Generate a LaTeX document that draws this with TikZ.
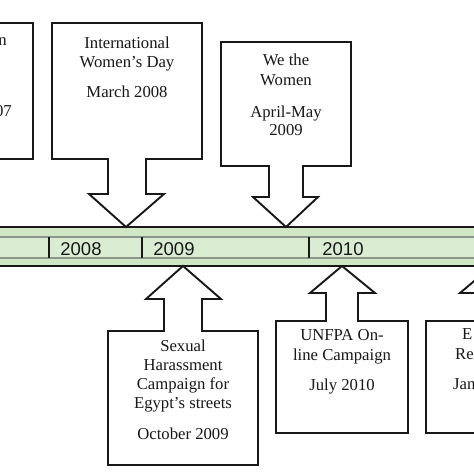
\documentclass[tikz,border=0pt]{standalone}
\usepackage{fontspec}
\setmainfont{Liberation Serif}
\newfontfamily\yearfont{Liberation Sans}
\definecolor{barout}{RGB}{208,231,198}
\definecolor{barin}{RGB}{218,237,210}
\definecolor{barline}{RGB}{140,150,140}
\definecolor{ink}{RGB}{24,24,24}
\tikzset{
  callout/.style={draw=ink,line width=1.9pt,fill=white,line join=miter},
  lbl/.style={font=\fontsize{16.7}{19}\selectfont,text=ink,inner sep=0pt,anchor=base},
  yr/.style={font=\yearfont\fontsize{18.5}{20}\selectfont,text=ink,inner sep=0pt,anchor=base},
  tick/.style={draw=ink,line width=1.5pt}
}
\begin{document}
\begin{tikzpicture}[x=1pt,y=-1pt]
\clip (0,0) rectangle (474,474);
\fill[white] (0,0) rectangle (474,474);
% timeline bar
\fill[barout] (-10,227) rectangle (484,266);
\fill[barin] (-10,237) rectangle (484,258);
\draw[barline,line width=1.1pt] (-10,237) -- (484,237) (-10,258) -- (484,258);
\draw[ink,line width=1.9pt] (-10,227) -- (484,227) (-10,266) -- (484,266);
\draw[tick] (49,237) -- (49,258);
\draw[tick] (142,237) -- (142,258);
\draw[tick] (309,237) -- (309,258);
\node[yr] (y2008) at (81,255) {2008};
\node[yr] (y2009) at (174,255) {2009};
\node[yr] (y2010) at (343,255) {2010};
% downward callouts
\draw[callout] (-117,23) -- (33,23) -- (33,159) -- (-23,159) -- (-23,194) -- (-5,194) -- (-42,227) -- (-80,194) -- (-61,194) -- (-61,159) -- (-117,159) -- cycle;
\draw[callout] (52,23) -- (202,23) -- (202,159) -- (146,159) -- (146,194) -- (164,194) -- (126,227) -- (89,194) -- (108,194) -- (108,159) -- (52,159) -- cycle;
\draw[callout] (221,42) -- (351,42) -- (351,166) -- (303,166) -- (303,197) -- (318,197) -- (286,227) -- (253,197) -- (269,197) -- (269,166) -- (221,166) -- cycle;
% upward callouts
\draw[callout] (108,331) -- (164,331) -- (164,299) -- (146,299) -- (183,266) -- (221,299) -- (202,299) -- (202,331) -- (258,331) -- (258,465) -- (108,465) -- cycle;
\draw[callout] (276,321) -- (326,321) -- (326,293) -- (310,293) -- (342,266) -- (375,293) -- (358,293) -- (358,321) -- (408,321) -- (408,433) -- (276,433) -- cycle;
\draw[callout] (426,321) -- (476,321) -- (476,293) -- (460,293) -- (492,266) -- (525,293) -- (508,293) -- (508,321) -- (558,321) -- (558,433) -- (426,433) -- cycle;
% texts box 1 (cropped at the left edge, as in the reference)
\node[lbl,anchor=base east] (b1a) at (7,45) {n};
\node[lbl,anchor=base east] (b1b) at (12,116) {07};
% box 2
\node[lbl] (b2a) at (127,48) {International};
\node[lbl] (b2b) at (127,67) {Women’s Day};
\node[lbl] (b2c) at (127,97) {March 2008};
% box 3
\node[lbl] (b3a) at (286,65) {We the};
\node[lbl] (b3b) at (286,85) {Women};
\node[lbl] (b3c) at (286,117) {April-May};
\node[lbl] (b3d) at (286,135) {2009};
% box 4
\node[lbl] (b4a) at (183,351) {Sexual};
\node[lbl] (b4b) at (183,370) {Harassment};
\node[lbl] (b4c) at (183,389) {Campaign for};
\node[lbl] (b4d) at (183,408) {Egypt’s streets};
\node[lbl] (b4e) at (183,439) {October 2009};
% box 5
\node[lbl] (b5a) at (342,340) {UNFPA On-};
\node[lbl] (b5b) at (342,360) {line Campaign};
\node[lbl] (b5c) at (342,390) {July 2010};
% box 6 (cropped at the right edge, as in the reference)
\node[lbl,anchor=base west] (b6a) at (462,339) {E};
\node[lbl,anchor=base west] (b6b) at (455,359) {Re};
\node[lbl,anchor=base west] (b6c) at (453,389) {Jan};
\end{tikzpicture}
\end{document}
